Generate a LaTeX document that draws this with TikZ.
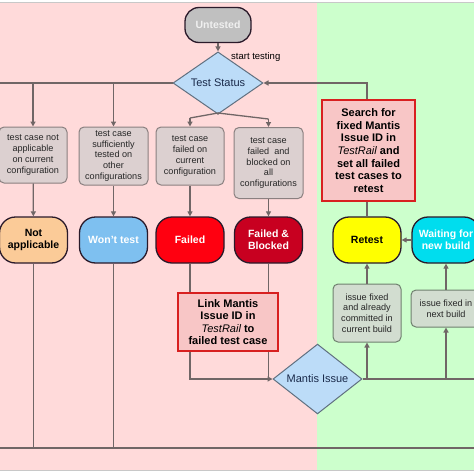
\documentclass[tikz,border=0pt]{standalone}
\usepackage{fontspec}
\setmainfont{Liberation Sans}
\usetikzlibrary{shapes.geometric,arrows.meta}
\definecolor{pinkbg}{HTML}{FFDADA}
\definecolor{greenbg}{HTML}{CCFFCC}
\definecolor{framec}{HTML}{C8C8C8}
\definecolor{linec}{HTML}{706666}
\definecolor{procfillp}{HTML}{DCD0D0}
\definecolor{procfillg}{HTML}{D2DDD0}
\definecolor{procdrawp}{HTML}{8A8080}
\definecolor{procdrawg}{HTML}{6F806F}
\definecolor{termdraw}{HTML}{2A1A2A}
\definecolor{untestedc}{HTML}{C0C0C0}
\definecolor{naC}{HTML}{FBCB98}
\definecolor{wtC}{HTML}{7EC0F0}
\definecolor{failC}{HTML}{FF0010}
\definecolor{fbC}{HTML}{C80020}
\definecolor{retestC}{HTML}{FFFF00}
\definecolor{waitC}{HTML}{00DDEE}
\definecolor{decfill}{HTML}{BCDCF8}
\definecolor{decdraw}{HTML}{607080}
\definecolor{dectext}{HTML}{1A2A4A}
\definecolor{notefill}{HTML}{F8C6C6}
\definecolor{notedraw}{HTML}{D82020}
\begin{document}
\begin{tikzpicture}[x=1pt,y=-1pt,
  proc/.style={draw=procdrawp, fill=procfillp, rounded corners=5pt, line width=1pt, align=center,
    font=\fontsize{9.1}{10.7}\selectfont, inner sep=1pt, text=black!85},
  procg/.style={proc, draw=procdrawg, fill=procfillg},
  term/.style={draw=termdraw, line width=1.3pt, rounded corners=16pt, minimum width=68pt,
    minimum height=46pt, align=center, font=\bfseries\fontsize{10.5}{12}\selectfont, inner sep=1pt},
  note/.style={draw=notedraw, fill=notefill, line width=1.3pt, align=center,
    font=\bfseries\fontsize{11}{12.6}\selectfont, inner sep=1pt},
  dec/.style={diamond, draw=decdraw, fill=decfill, line width=1pt, inner sep=0pt,
    font=\fontsize{11}{12}\selectfont, text=dectext},
  conn/.style={draw=linec, line width=1.3pt},
  arr/.style={conn, -{Triangle[width=5pt,length=5pt]}}]
\useasboundingbox (0,0) rectangle (474,474);
\clip (0,0) rectangle (474,474);
% background
\fill[white] (0,0) rectangle (474,474);
\fill[pinkbg] (0,2) rectangle (317,470);
\fill[greenbg] (317,2) rectangle (474,470);
\draw[framec, line width=0.8pt] (0,2) -- (474,2) (0,470) -- (474,470);

% nodes
\node[term, fill=untestedc, text=white!94!black, minimum width=66pt, minimum height=35pt, rounded corners=14pt] (untested) at (218,25) {Untested};
\node[font=\fontsize{9.5}{11}\selectfont, anchor=west, inner sep=0pt] (starttxt) at (231,57) {start testing};
\node[dec, minimum width=90pt, minimum height=42pt] (status) at (218,83) {Test Status};

\node[proc, minimum width=68pt, minimum height=56pt] (b1) at (33,155) {test case not\\applicable\\on current\\configuration};
\node[proc, minimum width=69pt, minimum height=58pt] (b2) at (113.5,156) {test case\\sufficiently\\tested on\\other\\configurations};
\node[proc, minimum width=68pt, minimum height=58pt] (b3) at (190,156) {test case\\failed on\\current\\configuration};
\node[proc, minimum width=69pt, minimum height=71pt] (b4) at (268.5,163) {test case\\failed\ \ and\\blocked on\\all\\configurations};

\node[term, fill=naC] (t1) at (33.5,240) {Not\\applicable};
\node[term, fill=wtC, text=white] (t2) at (113.5,240) {Won't test};
\node[term, fill=failC, text=white] (t3) at (190,240) {Failed};
\node[term, fill=fbC, text=white] (t4) at (268.5,240) {Failed \&\\Blocked};
\node[term, fill=retestC] (retest) at (367,240) {Retest};
\node[term, fill=waitC, text=white] (wait) at (446,240) {Waiting for\\new build};

\node[note, minimum width=93pt, minimum height=101pt] (search) at (368.5,150.5) {Search for\\fixed Mantis\\Issue ID in\\{\mdseries\itshape TestRail} and\\set all failed\\test cases to\\retest};

\node[procg, minimum width=68pt, minimum height=58pt] (b5) at (367,313) {issue fixed\\and already\\committed in\\current build};
\node[procg, minimum width=70pt, minimum height=37pt] (b6) at (446,308.5) {issue fixed in\\next build};

\node[dec, minimum width=89pt, minimum height=46pt] (mantis) at (317.5,379) {Mantis Issue};

% coordinates
\coordinate (lend) at (0,83);
\coordinate (j1) at (33,83);
\coordinate (j2) at (113.5,83);
\coordinate (j0) at (218,113);
\coordinate (j3) at (190,118);
\coordinate (j4) at (268.5,119);
\coordinate (bl) at (0,448);
\coordinate (br) at (474,448);
\coordinate (rend) at (474,379);

% connectors
\draw[arr] (untested) -- (status);
\draw[conn] (status.west) -- (lend);
\draw[arr] (j1) -- (b1.north);
\draw[arr] (j2) -- (b2.north);
\draw[conn] (status.south) -- (j0) -- (j3);
\draw[conn] (j0) -- (j4);
\draw[arr] (j3) -- (b3.north);
\draw[arr] (j4) -- (b4.north);
\draw[arr] (b1) -- (t1);
\draw[arr] (b2) -- (t2);
\draw[arr] (b3) -- (t3);
\draw[arr] (b4) -- (t4);
\draw[conn] (bl) -- (br);
\draw[conn] (t1.south) -- (t1.south |- bl);
\draw[conn] (t2.south) -- (t2.south |- bl);
\draw[arr] (t3.south) |- (mantis.west);
\draw[conn] (t4.south) -- (t4.south |- mantis.west);
\draw[conn] (mantis.east) -- (rend);
\draw[arr] (b5.south |- mantis.east) -- (b5.south);
\draw[arr] (b6.south |- mantis.east) -- (b6.south);
\draw[arr] (b5) -- (retest);
\draw[arr] (b6) -- (wait);
\draw[arr] (wait) -- (retest);
\draw[conn] (retest.north) -- (retest.north |- search.south);
\draw[arr] (retest.north |- search.north) |- (status.east);

\node[note, minimum width=100pt, minimum height=58pt] (link) at (228,322) {Link Mantis\\Issue ID in\\{\mdseries\itshape TestRail} to\\failed test case};
\end{tikzpicture}
\end{document}
